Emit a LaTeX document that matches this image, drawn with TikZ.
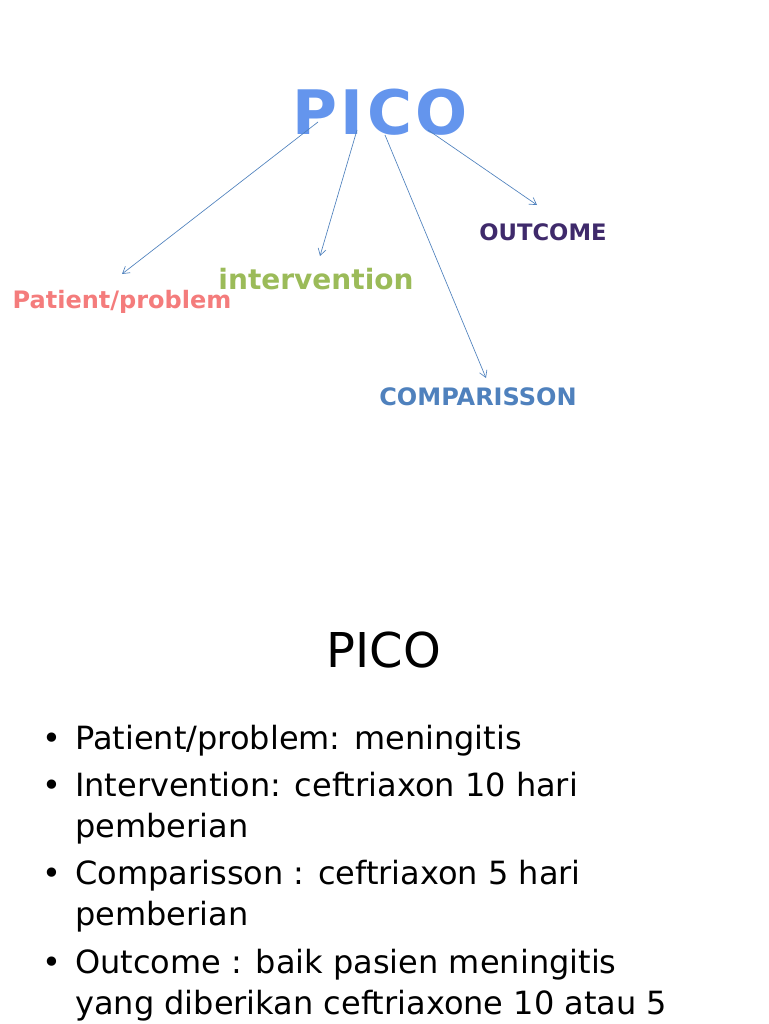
\documentclass[tikz,border=0pt]{standalone}
\usepackage{fontspec}
\setmainfont{DejaVu Sans}
\usetikzlibrary{arrows.meta}
\definecolor{titleblue}{HTML}{6495ED}
\definecolor{arrowblue}{HTML}{4F81BD}
\definecolor{outc}{HTML}{3F2A6B}
\definecolor{interv}{HTML}{9BBB59}
\definecolor{pat}{HTML}{F47C7C}
\tikzset{lbl/.style={font=\bfseries, inner sep=0pt},
 conn/.style={draw=arrowblue, line width=0.5pt, -{Straight Barb[length=5pt,width=6pt]}},
 bul/.style={anchor=base west, inner sep=0pt, font=\fontsize{24}{28}\selectfont}}
\begin{document}
\begin{tikzpicture}[x=0.75pt,y=-0.75pt]
\useasboundingbox (0,0) rectangle (768,1024);
\node[lbl, text=titleblue, font=\fontsize{46}{50}\bfseries\addfontfeature{LetterSpace=6}] (pico) at (380,112) {PICO};
\node[lbl, text=outc, font=\fontsize{17}{20}\bfseries] (o) at (543,232) {OUTCOME};
\node[lbl, text=interv, font=\fontsize{21}{24}\bfseries] (i) at (316,279) {intervention};
\node[lbl, text=pat, font=\fontsize{18}{21}\bfseries] (p) at (122,302) {Patient/problem};
\node[lbl, text=arrowblue, font=\fontsize{18}{21}\bfseries] (c) at (478,397) {COMPARISSON};
\coordinate (s1) at (318,122); \coordinate (e1) at (122,274);
\coordinate (s2) at (357,130); \coordinate (e2) at (320,256);
\coordinate (s3) at (385,135); \coordinate (e3) at (486,378);
\coordinate (s4) at (428,130); \coordinate (e4) at (537,205);
\draw[conn] (s1) -- (e1);
\draw[conn] (s2) -- (e2);
\draw[conn] (s3) -- (e3);
\draw[conn] (s4) -- (e4);
\node[inner sep=0pt, font=\fontsize{36}{40}\selectfont] (t2) at (384,650) {PICO};
\node[bul] (b1) at (42,749) {•}; \node[bul] (l1) at (75,749) {Patient/problem: meningitis};
\node[bul] (b2) at (42,796) {•}; \node[bul] (l2) at (75,796) {Intervention: ceftriaxon 10 hari};
\node[bul] (l2b) at (75,837) {pemberian};
\node[bul] (b3) at (42,884) {•}; \node[bul] (l3) at (75,884) {Comparisson : ceftriaxon 5 hari};
\node[bul] (l3b) at (75,925) {pemberian};
\node[bul] (b4) at (42,973) {•}; \node[bul] (l4) at (75,973) {Outcome : baik pasien meningitis};
\node[bul] (l4b) at (75,1014) {yang diberikan ceftriaxone 10 atau 5};
\end{tikzpicture}
\end{document}
